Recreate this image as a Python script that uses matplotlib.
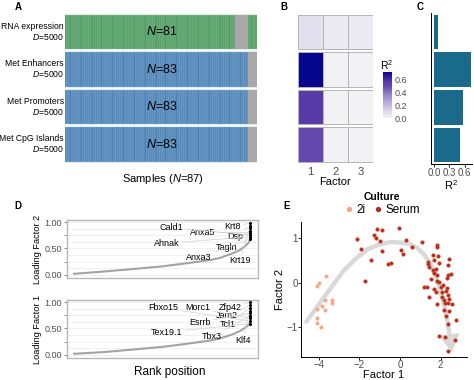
import numpy as np
import matplotlib
matplotlib.use("Agg")
import matplotlib.pyplot as plt
from matplotlib.colors import LinearSegmentedColormap, Normalize
from matplotlib.cm import ScalarMappable
from matplotlib.lines import Line2D

plt.rcParams['font.family'] = ['Liberation Sans', 'DejaVu Sans']
plt.rcParams['mathtext.fontset'] = 'custom'
plt.rcParams['mathtext.rm'] = 'Liberation Sans'
plt.rcParams['mathtext.it'] = 'Liberation Sans:italic'

# ---- panel A: data overview ----
view_names = ["RNA expression", "Met Enhancers", "Met Promoters", "Met CpG Islands"]
view_dims = [5000, 5000, 5000, 5000]
n_samples = 87
rna_missing = [77, 78, 79, 80, 81, 82]
met_missing = [83, 84, 85, 86]
view_missing = [rna_missing, met_missing, met_missing, met_missing]

# ---- panel B/C: variance explained ----
factors = ["1", "2", "3"]
r2_per_factor = [
    [0.08, 0.04, 0.04],
    [0.71, 0.01, 0.01],
    [0.55, 0.01, 0.01],
    [0.49, 0.01, 0.01],
]
r2_total = [0.08, 0.72, 0.56, 0.50]

# ---- panel D: loadings ----
curve_rank = [1, 800, 1674, 2500, 3208, 3861, 4145, 4514, 4713, 4855, 4950, 5000]
curve_f2 = [0.02, 0.06, 0.11, 0.16, 0.22, 0.28, 0.32, 0.41, 0.47, 0.54, 0.60, 0.66]
curve_f1 = [0.02, 0.05, 0.10, 0.15, 0.21, 0.27, 0.31, 0.39, 0.45, 0.51, 0.56, 0.60]

genes_f2 = ["Krt8", "Dsp", "Krt19", "Tagln", "Anxa5", "Cald1", "Ahnak", "Anxa3"]
load_f2 = [0.98, 0.93, 0.88, 0.84, 0.80, 0.76, 0.72, 0.68]
label_f2_rank = [4514, 4571, 4713, 4344, 3662, 2754, 2640, 3549]
label_f2_y = [0.91, 0.72, 0.28, 0.51, 0.81, 0.89, 0.60, 0.32]

genes_f1 = ["Zfp42", "Jam2", "Tcl1", "Klf4", "Esrrb", "Tbx3", "Morc1", "Fbxo15", "Tex19.1"]
load_f1 = [1.00, 0.94, 0.89, 0.84, 0.79, 0.74, 0.69, 0.64, 0.59]
label_f1_rank = [4429, 4344, 4372, 4798, 3577, 3918, 3520, 2526, 2640]
label_f1_y = [0.89, 0.74, 0.58, 0.28, 0.62, 0.34, 0.89, 0.89, 0.43]

# ---- panel E: factor scatter ----
x_2i = [-3.67, -4.00, -4.08, -3.70, -3.34, -3.34, -3.83, -4.08, -3.70, -4.08, -4.11, -3.88]
y_2i = [0.15, 0.00, -0.07, -0.39, -0.39, -0.46, -0.53, -0.59, -0.61, -0.79, -0.90, -0.99]
x_serum = [-1.15, -0.87, -0.05, -1.28, -1.20, -2.11, -0.99, 0.28, 1.07, 1.84, 1.84, -1.94,
           0.61, -0.90, 0.03, 0.16, -1.45, -0.46, -0.61, -1.74, 2.42, 1.89, 1.60, 1.68,
           1.38, 1.43, 1.38, 2.38, 2.50, 2.34, 1.63, 1.68, 1.84, 2.30, 1.92, 1.84, 1.18,
           1.35, 1.68, 2.01, 2.29, 2.25, 1.79, 2.05, 2.34, 1.43, 2.09, 2.17, 2.42, 2.58,
           2.22, 1.84, 2.34, 2.17, 2.42, 2.25, 2.75, 2.34, 1.92, 2.20, 2.70, 2.38, 1.92,
           1.75, 2.10, 1.55]
y_serum = [1.21, 1.17, 1.23, 1.06, 1.00, 0.97, 0.93, 0.95, 0.90, 0.85, 0.79, 0.76,
           0.80, 0.71, 0.73, 0.65, 0.50, 0.45, 0.41, 0.04, 0.53, 0.60, 0.61, 0.50,
           0.47, 0.34, 0.41, 0.39, 0.19, 0.16, 0.28, 0.21, 0.17, 0.10, 0.01, 0.04, -0.09,
           -0.11, -0.14, -0.10, -0.13, -0.18, -0.20, -0.22, -0.27, -0.33, -0.33, -0.39, -0.37, -0.47,
           -0.46, -0.48, -0.46, -0.61, -0.64, -0.76, -0.85, -0.94, -1.20, -1.21, -1.29, -1.53, 0.43,
           0.30, -0.05, 0.08]
arrow_x = [-4.62, -4.2, -3.75, -3.25, -2.75, -2.2, -1.6, -1.0, -0.45, 0.0, 0.45, 0.85,
           1.2, 1.5, 1.75, 2.0, 2.2, 2.35, 2.45]
arrow_y = [-0.88, -0.62, -0.33, -0.02, 0.28, 0.53, 0.75, 0.86, 0.91, 0.90, 0.87, 0.78,
           0.62, 0.42, 0.15, -0.2, -0.55, -0.9, -1.22]
arrow_tip = (2.55, -1.57)

W, H = 474, 380
fig = plt.figure(figsize=(W / 100, H / 100), dpi=100)


def px_axes(x0, y0, x1, y1):
    return fig.add_axes([x0 / W, 1 - y1 / H, (x1 - x0) / W, (y1 - y0) / H])


def px_text(x, y, s, **kw):
    return fig.text(x / W, 1 - y / H, s, **kw)


tick_col = '#4d4d4d'

# panel letters
for letter, (lx, ly) in zip("ABCDE", [(18, 7), (284, 7), (420, 7), (18, 206), (287, 206)]):
    px_text(lx, ly, letter, fontsize=7, fontweight='bold', ha='center', va='center')

# ---- A ----
axA = px_axes(65, 13, 257, 163)
view_cols = ['#4f9b62', '#4a80b4', '#4a80b4', '#4a80b4']
edge_cols = ['#8cc49a', '#8fb3d6', '#8fb3d6', '#8fb3d6']
for i in range(len(view_names)):
    for j in range(n_samples):
        if j in view_missing[i]:
            fc, ec = '#a9a9a9', '#a9a9a9'
        else:
            fc, ec = view_cols[i], edge_cols[i]
        axA.bar(j, 0.92, bottom=i - 0.46, width=1, color=fc, edgecolor=ec, linewidth=0.35)
    n_obs = n_samples - len(view_missing[i])
    axA.text(43.5, i, r"$\mathit{N}$=%d" % n_obs, ha='center', va='center', fontsize=9)
    axA.text(-0.9, i, "%s\n$\\mathit{D}$=%d" % (view_names[i], view_dims[i]),
             ha='right', va='center', fontsize=6.2, linespacing=1.1, multialignment='right')
axA.set_xlim(-0.5, n_samples - 0.5)
axA.set_ylim(3.5, -0.5)
axA.axis('off')
px_text(163, 179, r"Samples ($\mathit{N}$=87)", fontsize=8, ha='center', va='center')

# ---- B ----
cmap = LinearSegmentedColormap.from_list(
    'r2', [(0, '#f4f4f6'), (0.15, '#dcd8ec'), (0.55, '#8a78c4'), (0.7, '#6446ae'),
           (0.8, '#5538a5'), (1.0, '#06068c')])
norm = Normalize(0, 0.71)
axB = px_axes(298, 13, 373, 163)
for i in range(len(view_names)):
    for k in range(len(factors)):
        axB.bar(k, 0.92, bottom=i - 0.46, width=1, color=cmap(norm(r2_per_factor[i][k])),
                edgecolor='#b5b5b5', linewidth=0.7)
axB.set_xlim(-0.5, 2.5)
axB.set_ylim(3.5, -0.5)
for s in axB.spines.values():
    s.set_visible(False)
axB.set_yticks([])
axB.set_xticks(range(len(factors)))
axB.set_xticklabels(factors, fontsize=8)
axB.tick_params(axis='x', length=0, pad=3, labelcolor=tick_col)
axB.set_xlabel("Factor", fontsize=8, labelpad=0)

cax = px_axes(383, 72, 392, 118)
cb = fig.colorbar(ScalarMappable(norm=norm, cmap=cmap), cax=cax, ticks=[0, 0.2, 0.4, 0.6])
cb.outline.set_visible(False)
cb.ax.set_yticklabels(["0.0", "0.2", "0.4", "0.6"])
cb.ax.tick_params(length=0, labelsize=6.5, pad=2, labelcolor=tick_col)
px_text(387, 65, "R$^2$", fontsize=7.5, ha='center', va='center')

# ---- C ----
axC = px_axes(431, 13, 472, 164)
axC.barh(range(len(r2_total)), r2_total, height=0.92, color='#1a6a8c')
axC.set_xlim(-0.06, 0.74)
axC.set_ylim(3.5, -0.5)
axC.spines['top'].set_visible(False)
axC.spines['right'].set_visible(False)
axC.spines['left'].set_linewidth(0.7)
axC.spines['bottom'].set_linewidth(0.7)
axC.set_yticks([])
axC.set_xticks([0, 0.3, 0.6])
axC.set_xticklabels(["0.0", "0.3", "0.6"])
axC.tick_params(axis='x', labelsize=7, length=2, pad=1, labelcolor=tick_col, width=0.6)
axC.set_xlabel("R$^2$", fontsize=8, labelpad=0)


# ---- D ----
def loading_panel(ax, curve_y, genes, loads, lab_x, lab_y, ylabel):
    ax.plot(curve_rank, curve_y, color='#a3a3a3', lw=1.5, zorder=2,
            solid_joinstyle='round')
    for g, l, tx, ty in zip(genes, loads, lab_x, lab_y):
        ax.annotate(g, xy=(5000, l), xytext=(tx, ty), fontsize=6.5, ha='center', va='center',
                    arrowprops=dict(arrowstyle='-', color='#d0d0d0', lw=0.5,
                                    shrinkA=0, shrinkB=1), zorder=3)
    ax.scatter([5000] * len(loads), loads, s=5, color='black', linewidths=0, zorder=4)
    ax.set_xlim(-200, 5230)
    ax.set_ylim(-0.06, 1.04)
    for y in np.arange(0, 1.01, 0.125):
        ax.axhline(y, color='#ebebeb', lw=0.5, zorder=1)
    ax.set_xticks([])
    ax.set_yticks([0, 0.5, 1.0])
    ax.set_yticklabels(["0.00", "0.50", "1.00"])
    ax.set_yticks([0.25, 0.75], minor=True)
    ax.tick_params(axis='y', which='both', labelsize=6.5, length=2.5, pad=1,
                   labelcolor=tick_col, color='#555555', width=0.5)
    for s in ax.spines.values():
        s.set_color('#b8b8b8')
        s.set_linewidth(1.0)
    ax.set_ylabel(ylabel, fontsize=6.6, labelpad=2)


axD2 = px_axes(67, 220, 258, 278)
loading_panel(axD2, curve_f2, genes_f2, load_f2, label_f2_rank, label_f2_y, "Loading Factor 2")
axD1 = px_axes(67, 300, 258, 358)
loading_panel(axD1, curve_f1, genes_f1, load_f1, label_f1_rank, label_f1_y, "Loading Factor 1")
px_text(170, 372, "Rank position", fontsize=8.5, ha='center', va='center')

# ---- E ----
arrow_col = '#d9d9d9'
axE = px_axes(301, 222, 467, 357)
axE.plot(arrow_x, arrow_y, color=arrow_col, lw=3.2, solid_capstyle='round',
         solid_joinstyle='round', zorder=1)
axE.annotate('', xy=arrow_tip, xytext=(arrow_x[-1], arrow_y[-1]),
             arrowprops=dict(arrowstyle='-|>,head_length=0.8,head_width=0.45',
                             color=arrow_col, lw=0.8, mutation_scale=15,
                             shrinkA=0, shrinkB=0), zorder=1)
axE.scatter(x_2i, y_2i, s=7, color='#f4a582', edgecolors='#f7c0a0', linewidths=0.3, zorder=3)
axE.scatter(x_serum, y_serum, s=7, color='#b52a22', edgecolors='#e0602f', linewidths=0.3,
            zorder=3)
axE.set_xlim(-4.88, 3.3)
axE.set_ylim(-1.67, 1.36)
axE.spines['top'].set_visible(False)
axE.spines['right'].set_visible(False)
axE.spines['left'].set_linewidth(0.7)
axE.spines['bottom'].set_linewidth(0.7)
axE.set_xticks([-4, -2, 0, 2])
axE.set_yticks([-1, 0, 1])
axE.set_xticklabels(["\u22124", "\u22122", "0", "2"])
axE.set_yticklabels(["\u22121", "0", "1"])
axE.tick_params(labelsize=7, length=2, pad=0.5, labelcolor=tick_col, width=0.6)
axE.set_xlabel("Factor 1", fontsize=8, labelpad=-0.5)
axE.set_ylabel("Factor 2", fontsize=8, labelpad=1)
handles = [Line2D([], [], marker='o', ls='', color='#f4a582', markersize=2.8),
           Line2D([], [], marker='o', ls='', color='#b52a22', markersize=2.8)]
leg = axE.legend(handles, ["2i", "Serum"], ncol=2, loc='lower center',
                 bbox_to_anchor=(0.49, 0.99), frameon=False, fontsize=8.5,
                 handletextpad=0.25, columnspacing=0.6, handlelength=0.8,
                 borderpad=0.1, labelspacing=0.2, title="Culture",
                 title_fontproperties={'weight': 'bold', 'size': 7.5})

fig.savefig("out.png", dpi=100)
